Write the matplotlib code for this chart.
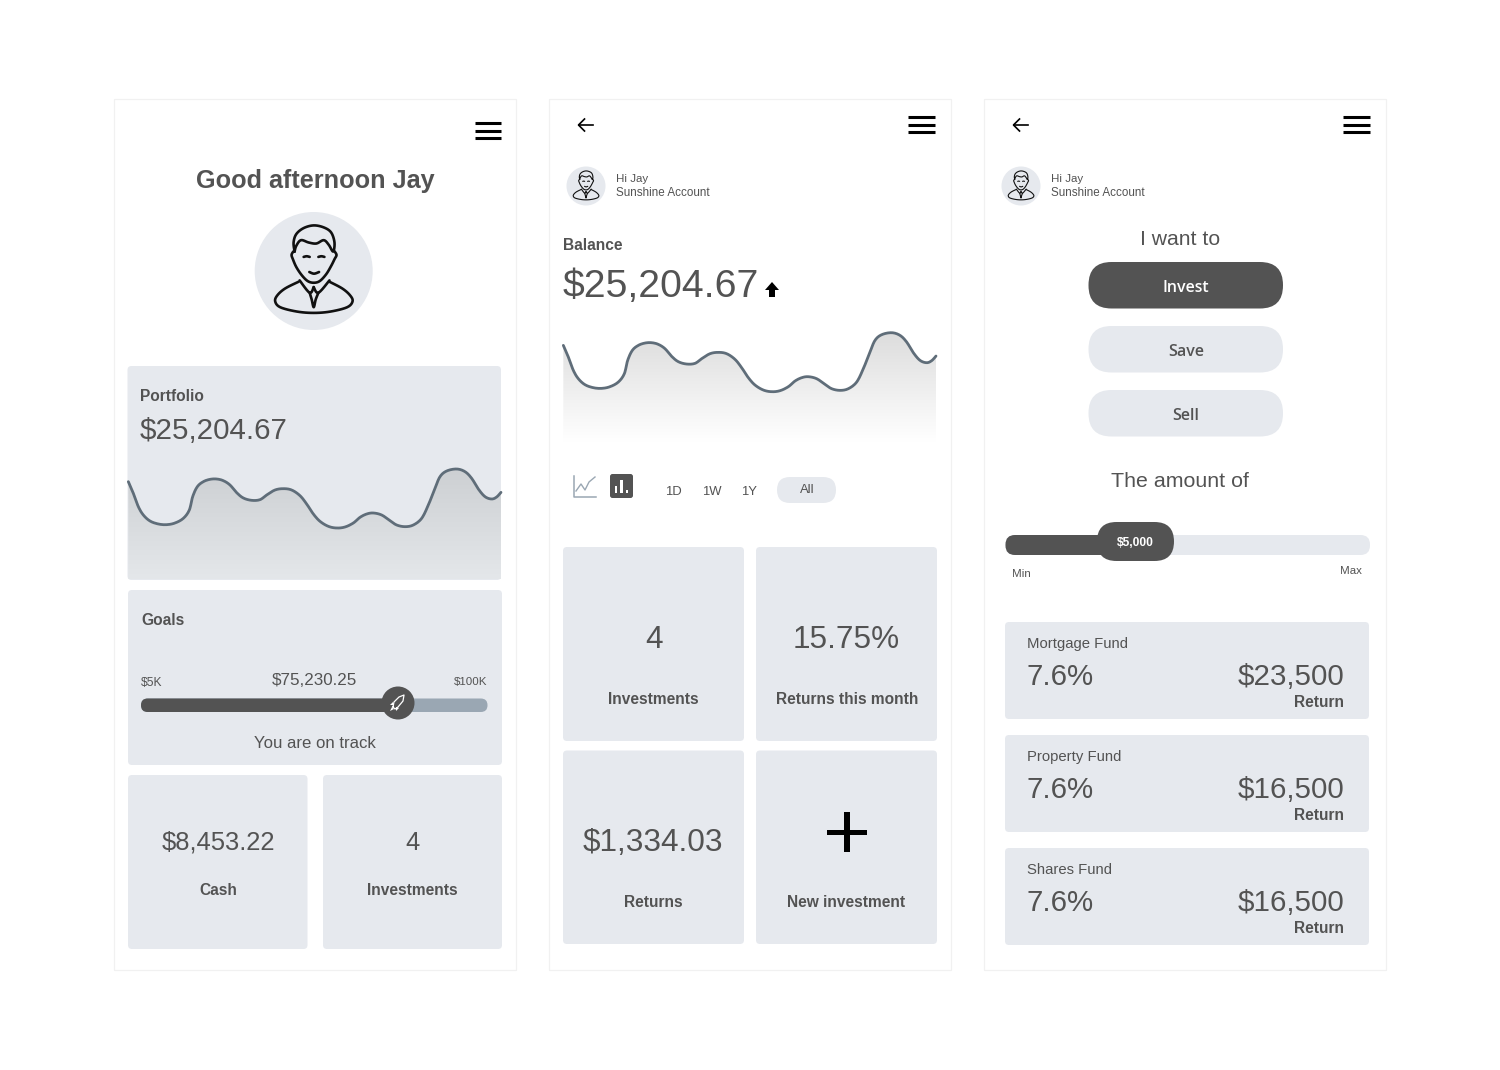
import matplotlib
matplotlib.use("Agg")
import matplotlib.pyplot as plt
import numpy as np
from matplotlib.patches import FancyBboxPatch, Circle, PathPatch, Polygon, Rectangle
from matplotlib.path import Path

plt.rcParams["font.family"] = ["Liberation Sans", "DejaVu Sans"]

# wave, x and y in zoomed picture units
wave_x = [25, 40, 55, 70, 90, 115, 140, 165, 190, 208, 218, 232, 250, 270, 290, 310, 330, 350,
          370, 395, 420, 440, 465, 490, 515, 540, 560, 580, 600, 625, 650, 675, 700, 720, 740,
          760, 785, 810, 830, 855, 880, 905, 925, 945, 960, 980, 1010, 1035, 1055, 1075, 1095,
          1115, 1130, 1143]
wave_y = [95, 130, 170, 195, 213, 222, 224, 219, 205, 180, 140, 110, 95, 88, 87, 92, 105, 128,
          144, 151, 149, 135, 120, 116, 120, 137, 162, 192, 214, 229, 234, 231, 219, 202, 192,
          189, 195, 212, 225, 230, 225, 205, 165, 115, 80, 63, 57, 65, 85, 117, 140,
          147, 141, 127]

balance = "$25,204.67"
goal_value = "$75,230.25"
goal_min = "$5K"
goal_max = "$100K"
range_labels = ["1D", "1W", "1Y", "All"]
stat_values = ["4", "15.75%", "$1,334.03"]
stat_labels = ["Investments", "Returns this month", "Returns", "New investment"]
fund_names = ["Mortgage Fund", "Property Fund", "Shares Fund"]
fund_rates = ["7.6%", "7.6%", "7.6%"]
fund_returns = ["$23,500", "$16,500", "$16,500"]
actions = ["Invest", "Save", "Sell"]

# avatar outline, relative to the circle centre in zoomed units
head = [(-61, -58), (-66, -48), (-62, -35), (-52, -12), (-36, 12), (-18, 30), (0, 35), (18, 30),
        (37, 10), (52, -15), (62, -35), (68, -48), (61, -60)]
hair = [(-57, -58), (-60, -85), (-52, -110), (-30, -128), (0, -136), (30, -130), (52, -115),
        (62, -85), (58, -58), (45, -78), (30, -92), (8, -82), (-15, -85), (-38, -92), (-52, -75), (-57, -58)]
eye_l = [(-30, -42), (-21, -44), (-12, -42)]
eye_r = [(14, -42), (23, -44), (32, -42)]
smile = [(-13, 3), (1, 8), (16, 3)]
body = [(-45, 32), (-85, 52), (-108, 72), (-115, 90), (-100, 108), (-50, 121), (0, 125), (50, 121),
        (100, 108), (116, 90), (108, 72), (85, 52), (47, 32)]
collar_l = [(-42, 28), (-12, 65), (0, 48)]
collar_r = [(0, 48), (14, 65), (47, 28)]
tie = [(-12, 65), (-6, 85), (0, 108), (6, 85), (14, 65)]

DARK = "#535353"
CARD = "#e6e9ee"
SLATE = "#5f6d79"
STEEL = "#9aa7b3"


def smooth(points, n=12):
    # Catmull-Rom through the given points
    p = np.asarray(points, dtype=float)
    p = np.vstack([p[0], p, p[-1]])
    out = []
    for i in range(1, len(p) - 2):
        t = np.linspace(0, 1, n, endpoint=False)[:, None]
        out.append(0.5 * (2 * p[i] + (p[i + 1] - p[i - 1]) * t
                          + (2 * p[i - 1] - 5 * p[i] + 4 * p[i + 1] - p[i + 2]) * t ** 2
                          + (3 * p[i] - p[i - 1] - 3 * p[i + 1] + p[i + 2]) * t ** 3))
    out.append(p[-2:-1])
    return np.vstack(out)


def box(ax, x0, y0, x1, y1, r=4, color=CARD, z=2, **kw):
    patch = FancyBboxPatch((x0, y0), x1 - x0, y1 - y0, boxstyle="round,pad=0,rounding_size=%s" % r,
                           fc=color, ec="none", zorder=z, **kw)
    ax.add_patch(patch)
    return patch


def txt(ax, x, y, s, px, color=DARK, ha="left", weight="normal", **kw):
    # va=center sits a little high, nudge by font size
    ax.text(x, y + px * 0.06 + 0.8, s, fontsize=px * 0.72, color=color, ha=ha, va="center",
            weight=weight, zorder=8, **kw)


def hamburger(ax, x0, x1, ys):
    for y in ys:
        ax.plot([x0, x1], [y, y], color="black", lw=2.2, solid_capstyle="butt", zorder=6)


def back_arrow(ax, x, y):
    ax.plot([x + 14, x], [y, y], color="black", lw=1.2, zorder=6)
    ax.plot([x + 6, x, x + 6], [y - 6, y, y + 6], color="black", lw=1.2, zorder=6)


def avatar(ax, cx, cy, r, lw):
    ax.add_patch(Circle((cx, cy), r, fc=CARD, ec="none", zorder=3))
    s = r / 176.0
    for part in (head, hair, eye_l, eye_r, smile, body, collar_l, collar_r, tie):
        xy = smooth(part, 6)
        ax.plot(cx + xy[:, 0] * s, cy + xy[:, 1] * s, color="#111111", lw=lw, zorder=5,
                solid_capstyle="round", solid_joinstyle="round")


def wave(ax, dx, dy, top, bottom, c_top, c_bottom, z=3):
    xy = smooth(list(zip(wave_x, wave_y)), 8)
    xs = dx + xy[:, 0] / 3.0
    ys = dy + xy[:, 1] / 3.0
    verts = np.vstack([np.column_stack([xs, ys]), [xs[-1], bottom], [xs[0], bottom], [xs[0], ys[0]]])
    clip = PathPatch(Path(verts), fc="none", ec="none", transform=ax.transData)
    ax.add_patch(clip)
    c0 = np.array(matplotlib.colors.to_rgb(c_top))
    c1 = np.array(matplotlib.colors.to_rgb(c_bottom))
    ramp = np.linspace(0, 1, 128)[:, None, None]
    img = ax.imshow(c0[None, None, :] * (1 - ramp) + c1[None, None, :] * ramp,
                    extent=(xs[0], xs[-1], bottom, top), aspect="auto", zorder=z, interpolation="bilinear")
    img.set_clip_path(clip)
    ax.plot(xs, ys, color=SLATE, lw=2.0, zorder=z + 1, solid_capstyle="round")


def rocket(ax, cx, cy):
    body_pts = [(-5, 4), (-4, -1), (1, -6), (6, -8), (5, -2), (0, 4), (-3, 6), (-5, 4)]
    ax.plot([cx + a for a, b in body_pts], [cy + b for a, b in body_pts], color="white", lw=0.9, zorder=7)
    ax.add_patch(Polygon([(cx - 8, cy + 2), (cx - 5, cy - 1), (cx - 4, cy + 2)], fc="white", ec="none", zorder=7))
    ax.add_patch(Polygon([(cx - 2, cy + 8), (cx + 1, cy + 5), (cx - 2, cy + 4)], fc="white", ec="none", zorder=7))
    ax.add_patch(Polygon([(cx - 8, cy + 8), (cx - 6, cy + 4), (cx - 4, cy + 6)], fc="white", ec="none", zorder=7))


def panel_one(ax):
    txt(ax, 315.5, 178.5, "Good afternoon Jay", 25.3, ha="center", weight="bold")
    hamburger(ax, 474.5, 500.5, [123, 131, 138])
    avatar(ax, 313.7, 271, 59, 1.9)

    box(ax, 127.5, 366, 501, 580)
    txt(ax, 140, 394.5, "Portfolio", 15.5, weight="bold")
    txt(ax, 140, 428, balance, 29.5)
    wave(ax, 120, 450, 470, 579, "#cdd0d3", "#e4e7ea")

    box(ax, 128, 590, 502, 765)
    txt(ax, 141, 618.5, "Goals", 15.5, weight="bold")
    txt(ax, 141, 681, goal_min, 12)
    txt(ax, 314.5, 679, goal_value, 17, ha="center")
    txt(ax, 487.5, 681, goal_max, 11.5, ha="right")
    box(ax, 141, 698.5, 487.5, 712, r=6.7, color=STEEL, z=3)
    box(ax, 141, 698.5, 398, 712, r=6.7, color=DARK, z=4)
    ax.add_patch(Circle((398, 703), 16.5, fc=DARK, ec="none", zorder=5))
    rocket(ax, 398, 703)
    txt(ax, 315, 742, "You are on track", 16.8, ha="center")

    box(ax, 128, 775, 307.5, 949)
    txt(ax, 218, 840.5, "$8,453.22", 25.5, ha="center")
    txt(ax, 218, 888.5, "Cash", 15.5, ha="center", weight="bold")
    box(ax, 323, 775, 502, 949)
    txt(ax, 412, 840.5, stat_values[0], 25.5, ha="center")
    txt(ax, 412, 888.5, stat_labels[0], 15.5, ha="center", weight="bold")


def account_header(ax, ox):
    back_arrow(ax, ox + 30.5, 125)
    hamburger(ax, ox + 360, ox + 387, [117, 125, 132])
    avatar(ax, ox + 38, 186, 19.5, 0.8)
    txt(ax, ox + 68, 177.5, "Hi Jay", 11.5)
    txt(ax, ox + 68, 192, "Sunshine Account", 11.6)


def panel_two(ax):
    ox = 548
    account_header(ax, ox)
    txt(ax, 563, 244, "Balance", 15.5, weight="bold")
    txt(ax, 563, 283.5, balance, 39.2)
    ax.add_patch(Polygon([(772, 282), (779, 290), (775, 290), (775, 297), (769, 297), (769, 290), (765, 290)],
                         fc="black", ec="none", zorder=6))
    wave(ax, 555, 313.7, 330, 442, "#dcdcdc", "#ffffff")

    # chart type icons
    ax.plot([573.5, 573.5, 596], [476, 497, 497], color=STEEL, lw=1.1, zorder=5)
    ax.plot([576, 581, 585, 589, 595], [491, 484, 490, 482, 477], color=STEEL, lw=1.0, zorder=5)
    box(ax, 610, 474, 633, 498, r=2.5, color=DARK, z=5)
    for bx, by in [(616, 486), (621.5, 480), (627, 490)]:
        ax.add_patch(Rectangle((bx - 1.2, by), 2.4, 493 - by, fc="white", ec="none", zorder=6))

    box(ax, 777, 477, 836, 503, r=13, z=4)
    for x, label in zip([673.5, 711.5, 749.5, 807], range_labels):
        txt(ax, x, 490 if label != "All" else 488.5, label, 13, ha="center")

    box(ax, 563, 547, 744, 741)
    box(ax, 756, 547, 937, 741)
    box(ax, 563, 750.5, 744, 944)
    box(ax, 756, 750.5, 937, 944)
    txt(ax, 653.5, 637, stat_values[0], 31.5, ha="center")
    txt(ax, 846.5, 637, stat_values[1], 31.5, ha="center")
    txt(ax, 653, 840, stat_values[2], 31.5, ha="center")
    ax.add_patch(Rectangle((827, 829.5), 40, 5.5, fc="black", ec="none", zorder=6))
    ax.add_patch(Rectangle((844.2, 812), 5.5, 40, fc="black", ec="none", zorder=6))
    txt(ax, 653.5, 697.5, stat_labels[0], 15.5, ha="center", weight="bold")
    txt(ax, 847, 697.5, stat_labels[1], 15.5, ha="center", weight="bold")
    txt(ax, 653.5, 900.5, stat_labels[2], 15.5, ha="center", weight="bold")
    txt(ax, 846, 900.5, stat_labels[3], 15.5, ha="center", weight="bold")


def panel_three(ax):
    ox = 983
    account_header(ax, ox)
    txt(ax, 1180, 237, "I want to", 21.2, ha="center")
    for i, (label, y0) in enumerate(zip(actions, [262, 326, 390])):
        box(ax, 1088.5, y0, 1283, y0 + 46.5, r=23, color=DARK if i == 0 else CARD)
        ax.text(1186, y0 + 26, label, fontsize=16 * 0.72, family="Open Sans", weight="semibold",
                color="white" if i == 0 else DARK, ha="center", va="center", zorder=8)
    txt(ax, 1180, 479.5, "The amount of", 21.4, ha="center")

    box(ax, 1005.5, 535, 1370, 555, r=9.5)
    box(ax, 1005.5, 535, 1125, 555, r=9.5, color=DARK, z=3)
    box(ax, 1097, 522, 1174, 561, r=19.5, color=DARK, z=4)
    txt(ax, 1135.5, 541, "$5,000", 12, color="white", ha="center", weight="bold")
    txt(ax, 1012, 572.5, "Min", 11.5)
    txt(ax, 1362, 569.5, "Max", 11.5, ha="right")

    for y0, name, rate, ret in zip([622, 735, 848], fund_names, fund_rates, fund_returns):
        box(ax, 1005, y0, 1369, y0 + 97)
        txt(ax, 1027, y0 + 20, name, 14.9)
        txt(ax, 1027, y0 + 52, rate, 29.5)
        txt(ax, 1344, y0 + 52, ret, 29.5, ha="right")
        txt(ax, 1344, y0 + 79, "Return", 15.5, ha="right", weight="bold")


def main():
    fig = plt.figure(figsize=(15, 10.7), dpi=100, facecolor="white")
    ax = fig.add_axes([0, 0, 1, 1])
    ax.axis("off")

    for x0 in [113.5, 548.5, 983.5]:
        ax.add_patch(Rectangle((x0, 98.5), 402.5, 871.5, fc="white", ec="#f1f1f1", lw=0.9, zorder=1))

    panel_one(ax)
    panel_two(ax)
    panel_three(ax)

    ax.set_xlim(0, 1500)
    ax.set_ylim(1070, 0)
    fig.savefig("out.png", dpi=100)


if __name__ == "__main__":
    main()
